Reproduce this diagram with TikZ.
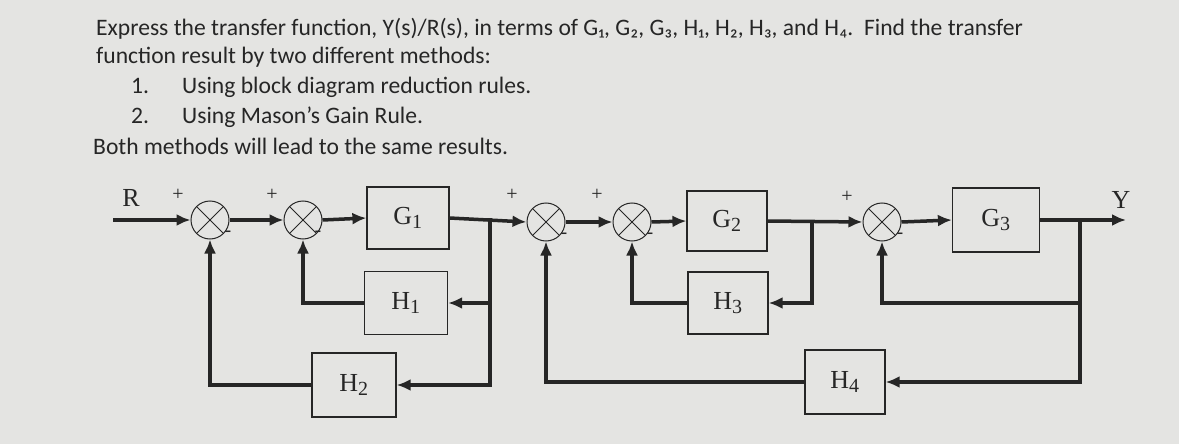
\documentclass[tikz,border=0pt]{standalone}
\usepackage{fontspec}
\newfontfamily\carl{Carlito}
\newfontfamily\lser{Liberation Serif}
\usetikzlibrary{arrows.meta}
\definecolor{bg}{HTML}{E4E4E2}
\definecolor{ink}{HTML}{262626}
\begin{document}
\begin{tikzpicture}[x=1pt,y=-1pt,
  sumj/.style={circle,draw=ink,line width=1pt,minimum size=38pt,inner sep=0pt,path picture={\draw[ink,line width=0.8pt] (path picture bounding box.south west)--(path picture bounding box.north east) (path picture bounding box.north west)--(path picture bounding box.south east);}},
  blk/.style={draw=ink,line width=1.2pt,inner sep=0pt,font=\lser\fontsize{26}{28}\selectfont,text=ink},
  ln/.style={draw=ink,line width=3.5pt},
  ar/.style={ln,-{Latex[length=14pt,width=12pt]}},
  sg/.style={font=\lser\fontsize{20}{20}\selectfont,text=ink},
  tx/.style={anchor=base west,font=\carl\fontsize{23.6}{26}\selectfont,text=ink,inner sep=0pt}]
\fill[bg] (0,0) rectangle (1179,444);
\useasboundingbox (0,0) rectangle (1179,444);
\node[tx] (t1) at (96,36) {Express the transfer function, Y(s)/R(s), in terms of G₁, G₂, G₃, H₁, H₂, H₃, and H₄.\ \ Find the transfer};
\node[tx] (t2) at (96,64) {function result by two different methods:};
\node[tx] (t3) at (131,93) {1.};
\node[tx] (t4) at (182,93) {Using block diagram reduction rules.};
\node[tx] (t5) at (131,123) {2.};
\node[tx] (t6) at (182,123) {Using Mason’s Gain Rule.};
\node[tx] (t7) at (93,154) {Both methods will lead to the same results.};
% junctions
\node[sumj] (s1) at (210,220) {};
\node[sumj] (s2) at (303,220) {};
\node[sumj] (s3) at (546,222) {};
\node[sumj] (s4) at (632,222) {};
\node[sumj] (s5) at (882,222) {};
% blocks
\node[blk,minimum width=82pt,minimum height=62pt] (g1) at (408,218) {G$_{\mbox{\lser\fontsize{20}{20}\selectfont 1}}$};
\node[blk,minimum width=83pt,minimum height=63pt] (h1) at (406,303) {H$_{\mbox{\lser\fontsize{20}{20}\selectfont 1}}$};
\node[blk,minimum width=84pt,minimum height=64pt] (h2) at (354,385) {H$_{\mbox{\lser\fontsize{20}{20}\selectfont 2}}$};
\node[blk,minimum width=80pt,minimum height=60pt] (g2) at (727,221) {G$_{\mbox{\lser\fontsize{20}{20}\selectfont 2}}$};
\node[blk,minimum width=80pt,minimum height=62pt] (h3) at (728,303) {H$_{\mbox{\lser\fontsize{20}{20}\selectfont 3}}$};
\node[blk,minimum width=80pt,minimum height=64pt] (h4) at (845,382) {H$_{\mbox{\lser\fontsize{20}{20}\selectfont 4}}$};
\node[blk,minimum width=87pt,minimum height=64pt] (g3) at (996,220) {G$_{\mbox{\lser\fontsize{20}{20}\selectfont 3}}$};
% labels
\node[font=\lser\fontsize{26}{28}\selectfont,text=ink] (R) at (131,198) {R};
\node[font=\lser\fontsize{26}{28}\selectfont,text=ink] (Y) at (1121,200) {Y};
\node[sg] (p1) at (178,195) {+};
\node[sg] (p2) at (272,195) {+};
\node[sg] (p3) at (512,195) {+};
\node[sg] (p4) at (597,195) {+};
\node[sg] (p5) at (847,197) {+};
\node[sg] (m1) at (228,234) {-};
\node[sg] (m2) at (318,234) {-};
\node[sg] (m3) at (564,236) {-};
\node[sg] (m4) at (650,236) {-};
\node[sg] (m5) at (900,236) {-};
\coordinate (rin) at (113,220);
\coordinate (yout) at (1126,220);
\coordinate (b1) at (490,218);
\coordinate (b2) at (812,222);
\coordinate (b3) at (1080,220);
% forward
\draw[ar] (rin) -- (s1.west);
\draw[ar] (s1.east) -- (s2.west);
\draw[ar] (s2.east) -- (g1.west);
\draw[ar] (g1.east) -- (s3.west);
\draw[ar] (s3.east) -- (s4.west);
\draw[ar] (s4.east) -- (g2.west);
\draw[ar] (g2.east) -- (s5.west);
\draw[ar] (s5.east) -- (g3.west);
\draw[ar] (g3.east) -- (yout);
% feedback loops
\draw[ar] (b1) |- (h1.east);
\draw[ar] (b1) |- (h2.east);
\draw[ar] (h1.west) -| (s2.south);
\draw[ar] (h2.west) -| (s1.south);
\draw[ar] (b2) |- (h3.east);
\draw[ar] (h3.west) -| (s4.south);
\draw[ar] (b3) |- (h4.east);
\draw[ar] (h4.west) -| (s3.south);
\draw[ar] (b3) |- (882,303) -- (s5.south);
\end{tikzpicture}
\end{document}
